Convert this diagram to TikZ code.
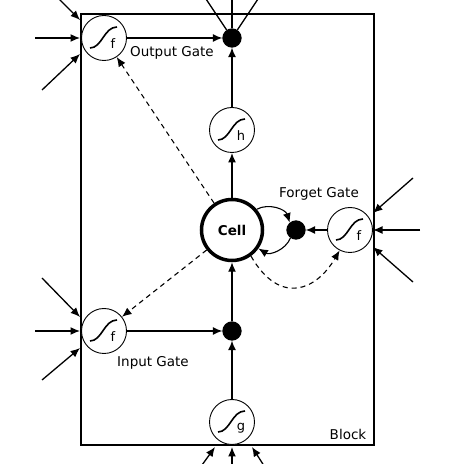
\documentclass[tikz,border=0pt]{standalone}
\usepackage{fontspec}
\setmainfont{DejaVu Sans}
\usetikzlibrary{arrows.meta}
\usetikzlibrary{positioning}
\usetikzlibrary{calc}

\begin{document}
\begin{tikzpicture}[x=1pt, y=1pt, on grid, line width=1.3pt, >={Latex[length=9.5pt,width=8pt]},
    gate/.style = {draw, circle, line width=0.9pt, minimum size=45pt, inner sep=0pt, fill=white,
        path picture={
            \draw[line width=1.6pt] ($(path picture bounding box.center)+(-14,-10)$) .. controls ($(path picture bounding box.center)+(-2,-10)$) and ($(path picture bounding box.center)+(0,11)$) .. ($(path picture bounding box.center)+(13,11)$);
            \node[font=\fontsize{13}{15}\selectfont] at ($(path picture bounding box.center)+(9,-6)$) {#1};}},
    prod/.style = {draw, circle, fill=black, minimum size=18pt, inner sep=0pt},
    cellnode/.style = {draw, circle, line width=3.5pt, minimum size=61pt, inner sep=0pt, font=\bfseries\fontsize{13.5}{16}\selectfont},
    lbl/.style = {font=\fontsize{13.5}{16}\selectfont},
    peep/.style = {->, line width=1.1pt, dash pattern=on 5pt off 4pt}]
    \useasboundingbox (0,0) rectangle (464,464);
    \clip (0,0) rectangle (464,464);
    % block
    \coordinate (blk-nw) at (81,450);
    \coordinate (blk-se) at (374,19);
    \draw[line width=1.6pt] (blk-nw) rectangle (blk-se);
    \node[lbl] (blocklbl) at ($(blk-se)+(-26,11)$) {Block};
    % nodes
    \node[cellnode] (cell) at (232,234) {Cell};
    \node[gate=h] (h) [above=100pt of cell] {};
    \node[prod] (outdot) [above=92pt of h] {};
    \node[gate=f] (og) [left=128pt of outdot] {};
    \node[prod] (indot) [below=101pt of cell] {};
    \node[gate=g] (g) [below=91pt of indot] {};
    \node[gate=f] (ig) [left=128pt of indot] {};
    \node[prod] (fdot) [right=64pt of cell] {};
    \node[gate=f] (fg) [right=54pt of fdot] {};
    \node[lbl] (oglbl) [below right=15pt and 68pt of og] {Output Gate};
    \node[lbl] (iglbl) [below right=32pt and 49pt of ig] {Input Gate};
    \node[lbl] (fglbl) [above right=36pt and 23pt of fdot] {Forget Gate};
    % inputs from outside the block
    \foreach \n/\sx/\sy/\ey in {1/-64/58/18, 2/-69/0/0, 3/-62/-52/-16} {
        \coordinate (og-s\n) at ($(og)+(\sx,\sy)$);
        \coordinate (og-e\n) at ($(og)+(-24,\ey)$);
        \draw[->] (og-s\n) -- (og-e\n);
    }
    \foreach \n/\sx/\sy/\ey in {1/-62/53/14, 2/-69/0/0, 3/-62/-49/-17} {
        \coordinate (ig-s\n) at ($(ig)+(\sx,\sy)$);
        \coordinate (ig-e\n) at ($(ig)+(-24,\ey)$);
        \draw[->] (ig-s\n) -- (ig-e\n);
    }
    \foreach \n/\sx/\sy/\ey in {1/63/52/17, 2/70/0/0, 3/63/-52/-17} {
        \coordinate (fg-s\n) at ($(fg)+(\sx,\sy)$);
        \coordinate (fg-e\n) at ($(fg)+(23,\ey)$);
        \draw[->] (fg-s\n) -- (fg-e\n);
    }
    \foreach \n/\sx/\ex in {1/-35/-17, 2/0/0, 3/36/20} {
        \coordinate (g-s\n) at ($(g)+(\sx,-50)$);
        \coordinate (g-e\n) at ($(g)+(\ex,-25)$);
        \draw[->] (g-s\n) -- (g-e\n);
    }
    \foreach \n/\sx in {1/-32, 2/0, 3/32} {
        \coordinate (out-\n) at ($(outdot)+(\sx,48)$);
        \draw (outdot) -- (out-\n);
    }
    % inside the block
    \draw[->] (og) -- (outdot);
    \draw[->] (h) -- (outdot);
    \draw[->] (cell) -- (h);
    \draw[->] (g) -- (indot);
    \draw[->] (ig) -- (indot);
    \draw[->] (indot) -- (cell);
    \draw[->] (fg) -- (fdot);
    \draw[->, line width=1.1pt] (cell.40) to[bend left=50] (fdot.130);
    \draw[->, line width=1.1pt] (fdot.235) to[bend left=50] (cell.-35);
    \draw[peep] (cell) -- (og);
    \draw[peep] (cell) -- (ig);
    \draw[peep] (cell.-54) .. controls +(-60:58) and +(-120:46) .. (fg.-117);
\end{tikzpicture}
\end{document}
